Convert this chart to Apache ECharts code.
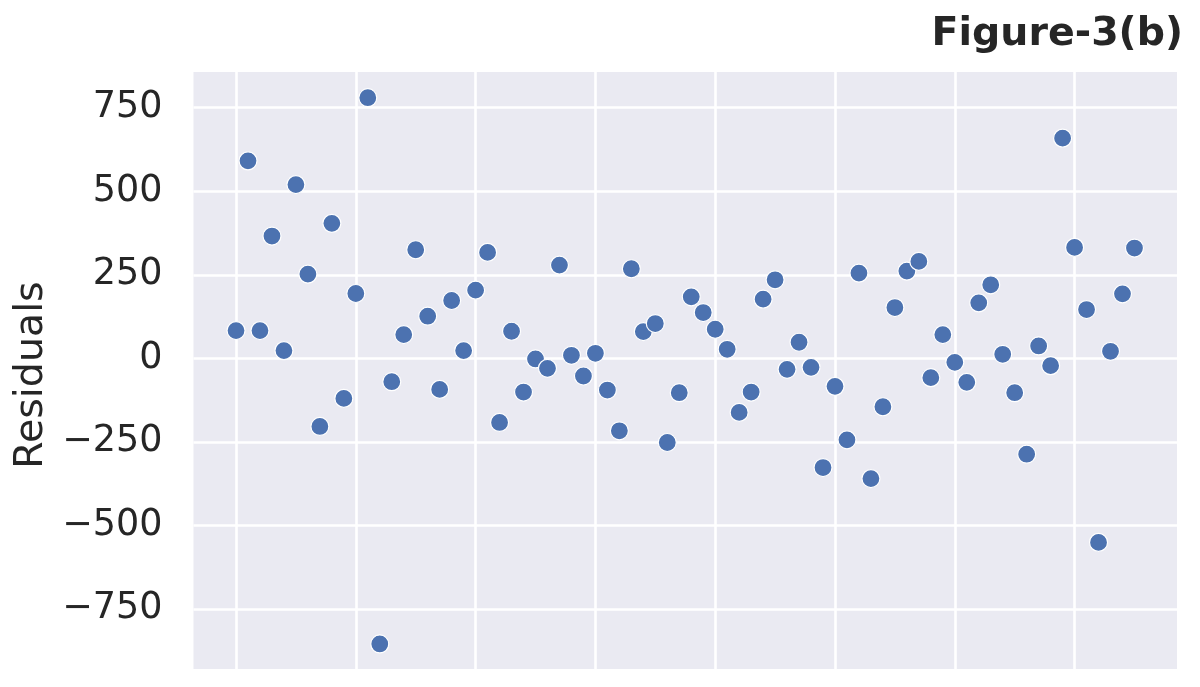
<!DOCTYPE html>
<html><head><meta charset="utf-8">
<script src="https://cdn.jsdelivr.net/npm/echarts@6/dist/echarts.min.js"></script>
<style>html,body{margin:0;padding:0;background:#fff}#chart{width:1200px;height:687px}</style>
</head><body><div id="chart"></div>
<script>
const titleText = 'Figure-3(b)';
const yAxisName = 'Residuals';
const residuals = [
  83, 591, 83, 366, 23, 520, 252, -204, 404, -120,
  194, 780, -855, -70, 71, 325, 126, -93, 173, 23,
  204, 317, -192, 81, -101, -2, -30, 279, 9, -53,
  15, -95, -217, 268, 80, 104, -252, -103, 184, 137,
  87, 27, -162, -101, 177, 235, -33, 48, -27, -327,
  -84, -244, 255, -360, -145, 152, 261, 290, -58, 71,
  -12, -72, 166, 220, 12, -103, -287, 37, -22, 659,
  332, 146, -551, 21, 193, 330
];
const yTicks = [-750, -500, -250, 0, 250, 500, 750];
const xTicks = [0, 10, 20, 30, 40, 50, 60, 70];

const points = residuals.map((v, i) => [i, v]);
const txt = '#262626';
const font = 'DejaVu Sans';

const chart = echarts.init(document.getElementById('chart'), null, {renderer: 'canvas'});
chart.setOption({
  animation: false,
  backgroundColor: '#ffffff',
  title: {
    text: titleText, right: 12, top: 10,
    textStyle: {fontSize: 39.5, fontWeight: 'bold', color: txt, fontFamily: font}
  },
  grid: {
    left: 193.5, right: 23, top: 72, bottom: 18,
    show: true, backgroundColor: '#EAEAF2', borderWidth: 0,
    containLabel: false, outerBoundsMode: 'none'
  },
  xAxis: {
    type: 'value', min: -3.55, max: 78.55,
    axisLine: {show: false},
    axisTick: {show: false, customValues: xTicks},
    axisLabel: {show: false, customValues: xTicks},
    splitLine: {show: true, lineStyle: {color: '#ffffff', width: 2.6}}
  },
  yAxis: {
    type: 'value', min: -930, max: 857,
    name: yAxisName, nameLocation: 'middle', nameGap: 133,
    nameTextStyle: {fontSize: 39.5, color: txt, fontFamily: font, padding: [0, 9, 0, 0]},
    axisLine: {show: false},
    axisTick: {show: false, customValues: yTicks},
    axisLabel: {
      customValues: yTicks, fontSize: 36.5, color: txt, fontFamily: font, margin: 31,
      formatter: v => String(v).replace('-', '\u2212')
    },
    splitLine: {show: true, lineStyle: {color: '#ffffff', width: 2.6}}
  },
  series: [{
    type: 'scatter',
    data: points,
    symbolSize: 18,
    itemStyle: {color: '#4C72B0', borderColor: '#ffffff', borderWidth: 1.2, opacity: 1}
  }]
});
</script></body></html>
